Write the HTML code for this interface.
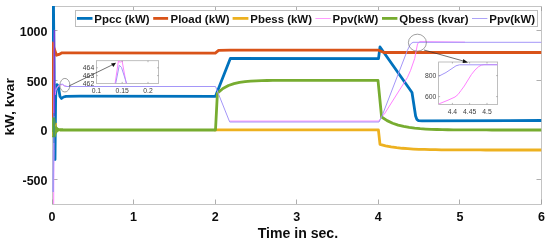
<!DOCTYPE html>
<html><head><meta charset="utf-8"><title>Power plot</title><style>html,body{margin:0;padding:0;background:#fff;width:550px;height:242px;overflow:hidden}svg{display:block}</style></head><body>
<svg width="550" height="242" viewBox="0 0 550 242">
<rect width="550" height="242" fill="#fff"/>
<rect x="52.0" y="6.0" width="489.5" height="198.0" fill="#fff" stroke="none"/>
<defs><clipPath id="ax"><rect x="52" y="6" width="489.5" height="198"/></clipPath></defs>
<rect x="52.5" y="6.5" width="489" height="198" fill="none" stroke="#c4c4c4" stroke-width="1"/>
<path d="M52.5,204v-4.5M52.5,7v4M133.5,204v-4.5M133.5,7v4M215.5,204v-4.5M215.5,7v4M296.5,204v-4.5M296.5,7v4M378.5,204v-4.5M378.5,7v4M459.5,204v-4.5M459.5,7v4M541.5,204v-4.5M541.5,7v4M53,30.5h4.5M541,30.5h-4.5M53,80.5h4.5M541,80.5h-4.5M53,129.5h4.5M541,129.5h-4.5M53,179.5h4.5M541,179.5h-4.5" stroke="#9a9a9a" stroke-width="0.8" fill="none"/>
<g clip-path="url(#ax)" fill="none" stroke-linejoin="round" stroke-linecap="butt">
<polyline points="52.20,135.00 52.20,-40.00 53.40,-40.00 53.50,6.00 55.00,159.50 55.60,100.00 56.00,88.00 57.00,84.60 58.20,86.00 60.00,96.50 61.50,98.50 63.50,97.00 66.00,96.30 80.00,96.20 215.50,96.30 230.30,58.50 378.50,58.60 380.00,47.00 412.00,92.50 415.60,116.00 416.80,119.30 418.50,120.60 422.00,120.80 541.50,120.50" stroke="#0072BD" stroke-width="2.8"/>
<polyline points="52.40,130.00 52.40,43.00 54.00,48.00 56.50,55.20 59.00,54.40 62.00,52.80 70.00,52.80 215.30,53.10 218.60,50.40 230.00,50.10 378.50,50.20 384.00,52.50 541.50,52.50" stroke="#D95319" stroke-width="2.8"/>
<polyline points="214.00,129.90 378.40,129.90 380.00,144.40 380.00,144.40 385.57,145.82 391.14,146.88 396.71,147.68 402.28,148.27 407.84,148.71 413.41,149.04 418.98,149.28 424.55,149.46 430.12,149.60 435.69,149.70 441.26,149.78 446.83,149.83 452.40,149.88 457.97,149.91 463.53,149.93 469.10,149.95 474.67,149.96 480.24,149.97 485.81,149.98 491.38,149.98 496.95,149.99 502.52,149.99 508.09,149.99 513.66,150.00 519.22,150.00 524.79,150.00 530.36,150.00 535.93,150.00 541.50,150.00" stroke="#EDB120" stroke-width="2.8"/>
<polyline points="53.30,300.00 54.40,30.00 54.50,30.00 54.60,80.00 54.90,95.00 56.00,90.00 58.00,86.50 60.50,85.00 62.50,84.60 64.50,86.00 67.00,86.50 70.00,86.50" stroke="#FF80FF" stroke-width="1"/>
<polyline points="229.35,121.15 379.00,121.10 382.00,116.00 384.00,114.60 407.30,77.70 410.60,70.30 414.70,58.50 417.50,44.00 419.50,41.70 440.00,41.90 465.00,42.20" stroke="#FF80FF" stroke-width="1"/>
<polyline points="60.00,130.00 215.50,130.00 217.40,93.30 217.40,93.30 222.94,88.49 228.48,85.47 234.01,83.56 239.55,82.35 245.09,81.59 250.63,81.12 256.17,80.81 261.70,80.62 267.24,80.50 272.78,80.43 278.32,80.38 283.86,80.35 289.39,80.33 294.93,80.32 300.47,80.31 306.01,80.31 311.54,80.31 317.08,80.30 322.62,80.30 328.16,80.30 333.70,80.30 339.23,80.30 344.77,80.30 350.31,80.30 355.85,80.30 361.39,80.30 366.92,80.30 372.46,80.30 378.00,80.30 381.60,117.00 381.60,117.00 387.11,120.62 392.63,123.23 398.14,125.11 403.66,126.47 409.17,127.46 414.68,128.16 420.20,128.68 425.71,129.04 431.22,129.31 436.74,129.50 442.25,129.64 447.77,129.74 453.28,129.81 458.79,129.87 464.31,129.90 469.82,129.93 475.33,129.95 480.85,129.96 486.36,129.97 491.88,129.98 497.39,129.99 502.90,129.99 508.42,129.99 513.93,129.99 519.44,130.00 524.96,130.00 530.47,130.00 535.99,130.00 541.50,130.00" stroke="#77AC30" stroke-width="2.8"/>
<polyline points="53.30,192.00 54.40,30.00 54.50,30.00 54.60,80.00 55.00,92.00 56.00,89.00 58.00,86.00 60.50,84.40 62.50,84.20 64.50,85.80 67.00,86.50 215.50,86.50 229.35,121.15 229.70,122.00 379.00,122.00 382.00,116.00 407.30,50.50 410.50,44.00 413.00,42.30 541.50,42.30" stroke="#A496F8" stroke-width="1"/>
<line x1="53.1" y1="192" x2="53.5" y2="150" stroke="#A496F8" stroke-width="1.6"/>
<line x1="54.5" y1="30" x2="54.4" y2="116" stroke="#7a3cd6" stroke-width="1.3"/>
<polygon points="51.3,117.4 55.0,117.4 55.5,122 56.1,125 57,126.8 58.4,127.9 60.5,128.4 63,128.5 63,131 60.5,131.1 58.4,131.6 57,132.7 56.1,134.5 55.5,137.3 51.3,137.3" fill="#77AC30"/>
<line x1="54.0" y1="113" x2="54.0" y2="143" stroke="#0072BD" stroke-width="0.7"/>
<path d="M56.6,123.2L55.7,126.3M51.9,132V136" stroke="#EDB120" stroke-width="1.1"/>
</g>
<text x="47.5" y="36.25" text-anchor="end" font-size="12.5" font-family="Liberation Sans, Arial, Helvetica, sans-serif" font-weight="bold" fill="#0d0d0d">1000</text>
<text x="47.5" y="85.75" text-anchor="end" font-size="12.5" font-family="Liberation Sans, Arial, Helvetica, sans-serif" font-weight="bold" fill="#0d0d0d">500</text>
<text x="47.5" y="135.25" text-anchor="end" font-size="12.5" font-family="Liberation Sans, Arial, Helvetica, sans-serif" font-weight="bold" fill="#0d0d0d">0</text>
<text x="47.5" y="184.75" text-anchor="end" font-size="12.5" font-family="Liberation Sans, Arial, Helvetica, sans-serif" font-weight="bold" fill="#0d0d0d">-500</text>
<text x="52.00" y="221" text-anchor="middle" font-size="12.5" font-family="Liberation Sans, Arial, Helvetica, sans-serif" font-weight="bold" fill="#0d0d0d">0</text>
<text x="133.58" y="221" text-anchor="middle" font-size="12.5" font-family="Liberation Sans, Arial, Helvetica, sans-serif" font-weight="bold" fill="#0d0d0d">1</text>
<text x="215.17" y="221" text-anchor="middle" font-size="12.5" font-family="Liberation Sans, Arial, Helvetica, sans-serif" font-weight="bold" fill="#0d0d0d">2</text>
<text x="296.75" y="221" text-anchor="middle" font-size="12.5" font-family="Liberation Sans, Arial, Helvetica, sans-serif" font-weight="bold" fill="#0d0d0d">3</text>
<text x="378.33" y="221" text-anchor="middle" font-size="12.5" font-family="Liberation Sans, Arial, Helvetica, sans-serif" font-weight="bold" fill="#0d0d0d">4</text>
<text x="459.92" y="221" text-anchor="middle" font-size="12.5" font-family="Liberation Sans, Arial, Helvetica, sans-serif" font-weight="bold" fill="#0d0d0d">5</text>
<text x="541.50" y="221" text-anchor="middle" font-size="12.5" font-family="Liberation Sans, Arial, Helvetica, sans-serif" font-weight="bold" fill="#0d0d0d">6</text>
<text x="297.9" y="237.6" text-anchor="middle" font-size="14.1" font-family="Liberation Sans, Arial, Helvetica, sans-serif" font-weight="bold" fill="#0d0d0d">Time in sec.</text>
<text transform="translate(14.3,106.8) rotate(-90)" text-anchor="middle" font-size="12" textLength="57.5" lengthAdjust="spacingAndGlyphs" font-family="Liberation Sans, Arial, Helvetica, sans-serif" font-weight="bold" fill="#0d0d0d">kW, kvar</text>
<rect x="96.4" y="60.7" width="62.19999999999999" height="22.700000000000003" fill="#fff" stroke="#b0b0b0" stroke-width="0.8"/>
<defs><clipPath id="i1"><rect x="96.4" y="60.7" width="62.2" height="22.7"/></clipPath></defs>
<g clip-path="url(#i1)" fill="none">
<polyline points="115,84 118.5,60.5 120,62.5 122,60.5 126.3,84" stroke="#FF80FF" stroke-width="1"/>
<polyline points="115.6,84 119.3,65.2 121.5,67.5 126.8,84" stroke="#A496F8" stroke-width="1"/>
</g>
<path d="M96.4,67.8h1.5M158.6,67.8h-1.5M96.4,75.6h1.5M158.6,75.6h-1.5M122.2,83.4v-1.5M122.2,60.7v1.5M148,83.4v-1.5M148,60.7v1.5" stroke="#888" stroke-width="0.6" fill="none"/>
<text x="94.2" y="70.30" text-anchor="end" font-size="6.8" font-family="Liberation Sans, Arial, Helvetica, sans-serif" fill="#3c3c3c">464</text>
<text x="94.2" y="78.10" text-anchor="end" font-size="6.8" font-family="Liberation Sans, Arial, Helvetica, sans-serif" fill="#3c3c3c">463</text>
<text x="94.2" y="85.90" text-anchor="end" font-size="6.8" font-family="Liberation Sans, Arial, Helvetica, sans-serif" fill="#3c3c3c">462</text>
<text x="96.4" y="93" text-anchor="middle" font-size="6.8" font-family="Liberation Sans, Arial, Helvetica, sans-serif" fill="#3c3c3c">0.1</text>
<text x="122.2" y="93" text-anchor="middle" font-size="6.8" font-family="Liberation Sans, Arial, Helvetica, sans-serif" fill="#3c3c3c">0.15</text>
<text x="148" y="93" text-anchor="middle" font-size="6.8" font-family="Liberation Sans, Arial, Helvetica, sans-serif" fill="#3c3c3c">0.2</text>
<ellipse cx="64.9" cy="85.2" rx="5" ry="6.8" fill="none" stroke="#777" stroke-width="0.7"/>
<line x1="69" y1="86" x2="112" y2="65" stroke="#333" stroke-width="0.7"/>
<polygon points="116,62.8 111,63.6 113.4,67" fill="#111"/>
<rect x="438.6" y="62.0" width="59.0" height="42.400000000000006" fill="#fff" stroke="#b0b0b0" stroke-width="0.8"/>
<defs><clipPath id="i2"><rect x="438.6" y="62" width="59" height="42.4"/></clipPath></defs>
<g clip-path="url(#i2)" fill="none">
<polyline points="438.6,104 448,100.2 455,97 458,94.5 461,90.5 464.3,86 468,80 471.5,74.4 475,70 478.7,66.6 481.5,65.1 484,64.6 497.6,64.6" stroke="#FF80FF" stroke-width="1"/>
<polyline points="438.6,76.3 446,72.5 452,68.5 456,65.8 459.5,64.8 497.6,64.8" stroke="#A496F8" stroke-width="1"/>
</g>
<path d="M438.6,75.6h1.5M497.6,75.6h-1.5M438.6,96.6h1.5M497.6,96.6h-1.5M452.4,104.4v-1.5M452.4,62.0v1.5M469.6,104.4v-1.5M469.6,62.0v1.5M487,104.4v-1.5M487,62.0v1.5" stroke="#888" stroke-width="0.6" fill="none"/>
<text x="436.4" y="78.10" text-anchor="end" font-size="6.8" font-family="Liberation Sans, Arial, Helvetica, sans-serif" fill="#3c3c3c">800</text>
<text x="436.4" y="99.10" text-anchor="end" font-size="6.8" font-family="Liberation Sans, Arial, Helvetica, sans-serif" fill="#3c3c3c">600</text>
<text x="452.4" y="113.9" text-anchor="middle" font-size="6.8" font-family="Liberation Sans, Arial, Helvetica, sans-serif" fill="#3c3c3c">4.4</text>
<text x="469.6" y="113.9" text-anchor="middle" font-size="6.8" font-family="Liberation Sans, Arial, Helvetica, sans-serif" fill="#3c3c3c">4.45</text>
<text x="487" y="113.9" text-anchor="middle" font-size="6.8" font-family="Liberation Sans, Arial, Helvetica, sans-serif" fill="#3c3c3c">4.5</text>
<ellipse cx="417.4" cy="42.7" rx="9" ry="8.5" fill="none" stroke="#777" stroke-width="0.7"/>
<line x1="424" y1="50" x2="464" y2="61.2" stroke="#333" stroke-width="0.7"/>
<polygon points="468,62.4 463.3,59 462.6,63" fill="#111"/>
<rect x="75.5" y="10.5" width="462.0" height="16.0" fill="#fff" stroke="#bdbdbd" stroke-width="1"/>
<line x1="77" y1="18.4" x2="92.5" y2="18.4" stroke="#0072BD" stroke-width="2.8"/>
<text x="94.3" y="22.7" font-size="11.45" font-family="Liberation Sans, Arial, Helvetica, sans-serif" font-weight="bold" fill="#111">Ppcc (kW)</text>
<line x1="153.2" y1="18.4" x2="168.1" y2="18.4" stroke="#D95319" stroke-width="2.8"/>
<text x="170.5" y="22.7" font-size="11.45" font-family="Liberation Sans, Arial, Helvetica, sans-serif" font-weight="bold" fill="#111">Pload (kW)</text>
<line x1="232.6" y1="18.4" x2="248.4" y2="18.4" stroke="#EDB120" stroke-width="2.8"/>
<text x="250.3" y="22.7" font-size="11.45" font-family="Liberation Sans, Arial, Helvetica, sans-serif" font-weight="bold" fill="#111">Pbess (kW)</text>
<line x1="315.4" y1="18.5" x2="330.7" y2="18.5" stroke="#FF9CFF" stroke-width="1"/>
<text x="332.6" y="22.7" font-size="11.45" font-family="Liberation Sans, Arial, Helvetica, sans-serif" font-weight="bold" fill="#111">Ppv(kW)</text>
<line x1="382" y1="18.4" x2="397.4" y2="18.4" stroke="#77AC30" stroke-width="2.8"/>
<text x="399.3" y="22.7" font-size="11.45" font-family="Liberation Sans, Arial, Helvetica, sans-serif" font-weight="bold" fill="#111">Qbess (kvar)</text>
<line x1="472" y1="18.5" x2="487.4" y2="18.5" stroke="#ADA3F8" stroke-width="1"/>
<text x="489.3" y="22.7" font-size="11.45" font-family="Liberation Sans, Arial, Helvetica, sans-serif" font-weight="bold" fill="#111">Ppv(kW)</text>
</svg>
</body></html>
